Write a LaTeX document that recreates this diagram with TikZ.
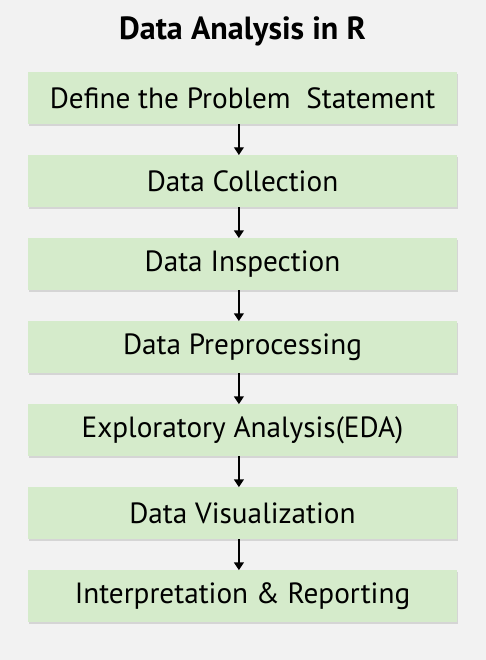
\documentclass[tikz,border=0pt]{standalone}
\usepackage{fontspec}
\setmainfont{PT Sans}
\usetikzlibrary{positioning,shadows,arrows.meta}
\definecolor{bgcol}{HTML}{F2F2F2}
\definecolor{boxcol}{HTML}{D5EBCB}
\tikzset{
	stepbox/.style={fill=boxcol, minimum width=10.725cm, minimum height=1.3cm, outer sep=0pt,
		drop shadow={shadow xshift=0.5pt, shadow yshift=-1.5pt, opacity=0.25},
		font=\fontsize{20.8}{24}\selectfont},
	flow/.style={-{Triangle[length=5.5pt,width=7pt]}, line width=1pt}
}

\begin{document}
\begin{tikzpicture}[x=0.025cm, y=-0.025cm, node distance=0.775cm]
		\fill[bgcol] (0,0) rectangle (486,660);%background
		\node[font=\fontsize{22.8}{26}\selectfont\bfseries] (title) at (242.5,31) {Data Analysis in R};
		
		\node[stepbox] (s1) at (242.5,98) {Define the Problem\ \ Statement};
		\node[stepbox, below=of s1] (s2) {Data Collection};
		\node[stepbox, below=of s2] (s3) {Data Inspection};
		\node[stepbox, below=of s3] (s4) {Data Preprocessing};
		\node[stepbox, below=of s4] (s5) {Exploratory Analysis(EDA)};
		\node[stepbox, below=of s5] (s6) {Data Visualization};
		\node[stepbox, below=of s6] (s7) {Interpretation \& Reporting};
		
		\foreach \a/\b in {s1/s2,s2/s3,s3/s4,s4/s5,s5/s6,s6/s7}
			\draw[flow] ([xshift=-0.09cm]\a.south) -- ([xshift=-0.09cm]\b.north);%arrows
\end{tikzpicture}
\end{document}
